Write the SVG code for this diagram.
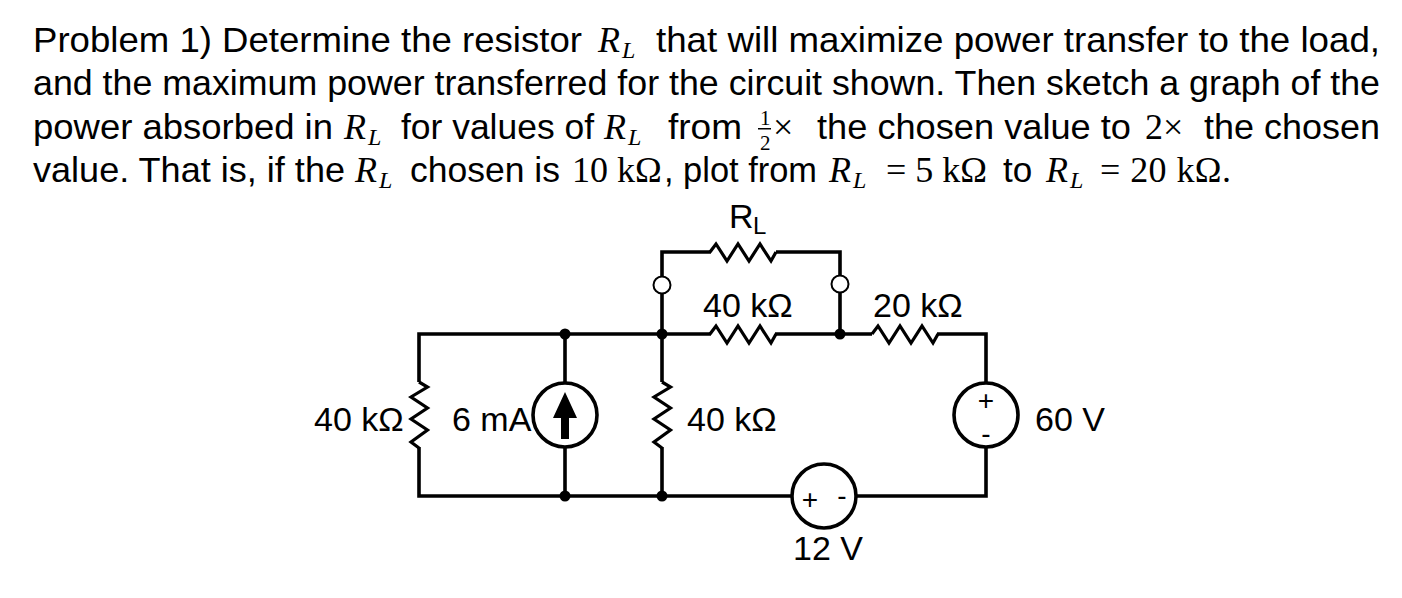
<svg xmlns="http://www.w3.org/2000/svg" width="1402" height="598" viewBox="0 0 1402 598">
<style>
text{fill:#000;font-family:"Liberation Sans",Arial,sans-serif;font-size:34px}
.p{font-size:35px}
.m{font-family:"Liberation Serif","Times New Roman",serif;font-size:36px}
.i{font-style:italic}
.s{font-size:24px}
.f{font-size:21px}
.w,.z{fill:none;stroke:#000;stroke-linejoin:miter}
.w{stroke-width:3.600}
.z{stroke-width:3.200}
.c{fill:#fff;stroke:#000;stroke-width:3.600}
.o{fill:#fff;stroke:#000;stroke-width:2}
.d{fill:#000}
.sg{font-size:28px;text-anchor:middle}
</style>
<defs>
<path id="rh" class="z" d="M-33 0L-27 -8L-16 9L-5 -8L6 9L17 -8L28 9L33 0"/>
<path id="rv" class="z" d="M0 -33L8.500 -28L-8 -18L8.500 -7L-8 4L8.500 15L-8 27L0 33"/>
<g id="R"><text class="m i" x="0" y="0">R</text><text class="m i s" x="24" y="6">L</text></g>
</defs>
<g id="problem-text">
<text class="p" x="33" y="52" textLength="549" lengthAdjust="spacingAndGlyphs">Problem 1) Determine the resistor</text>
<use href="#R" x="598" y="52"/>
<text class="p" x="656" y="52" textLength="724" lengthAdjust="spacingAndGlyphs">that will maximize power transfer to the load,</text>
<text class="p" x="33" y="95" textLength="1347" lengthAdjust="spacingAndGlyphs">and the maximum power transferred for the circuit shown. Then sketch a graph of the</text>
<text class="p" x="33" y="139" textLength="300" lengthAdjust="spacingAndGlyphs">power absorbed in</text>
<use href="#R" x="344" y="139"/>
<text class="p" x="401" y="139" textLength="193" lengthAdjust="spacingAndGlyphs">for values of</text>
<use href="#R" x="604" y="139"/>
<text class="p" x="668" y="139" textLength="74" lengthAdjust="spacingAndGlyphs">from</text>
<text class="m f" x="760" y="125">1</text>
<rect x="758" y="128" width="13" height="1.500"/>
<text class="m f" x="760" y="150">2</text>
<text class="m" x="773" y="139">×</text>
<text class="p" x="817" y="139" textLength="314" lengthAdjust="spacingAndGlyphs">the chosen value to</text>
<text class="m" x="1145" y="139">2×</text>
<text class="p" x="1204" y="139" textLength="176" lengthAdjust="spacingAndGlyphs">the chosen</text>
<text class="p" x="33" y="182" textLength="312" lengthAdjust="spacingAndGlyphs">value. That is, if the</text>
<use href="#R" x="355" y="182"/>
<text class="p" x="410" y="182" textLength="150" lengthAdjust="spacingAndGlyphs">chosen is</text>
<text class="m" x="572" y="182">10 kΩ</text>
<text class="p" x="664" y="182" textLength="153" lengthAdjust="spacingAndGlyphs">, plot from</text>
<use href="#R" x="829" y="182"/>
<text class="m" x="886" y="182">= 5 kΩ</text>
<text class="p" x="1003" y="182">to</text>
<use href="#R" x="1046" y="182"/>
<text class="m" x="1100" y="182" textLength="131">= 20 kΩ.</text>
</g>
<g id="connectors">
<path class="w" d="M711 252H662V276M776 252H840V276"/>
<path class="w" d="M662 294V382M662 447V496M840 292V334"/>
<path class="w" d="M419 382V334H711M775 334H872M937 334H986V383"/>
<path class="w" d="M565 334V383M565 447V496"/>
<path class="w" d="M419 447V496H792M856 496H986V447"/>
</g>
<g id="rl"><use href="#rh" x="743" y="252"/><text x="729" y="228">R</text><text class="s" x="753" y="234">L</text></g>
<g id="term-a"><circle class="o" cx="662" cy="285" r="8.500"/></g>
<g id="term-b"><circle class="o" cx="840" cy="284" r="8.500"/></g>
<g id="r-40k-top"><use href="#rh" x="743" y="334"/><text x="703" y="317">40 kΩ</text></g>
<g id="r-20k"><use href="#rh" x="905" y="334"/><text x="873" y="317">20 kΩ</text></g>
<g id="r-40k-left"><use href="#rv" x="419" y="415"/><text x="314" y="431">40 kΩ</text></g>
<g id="r-40k-mid"><use href="#rv" x="662" y="415"/><text x="687" y="431">40 kΩ</text></g>
<g id="i-6ma"><circle class="c" cx="565" cy="415" r="32"/><path class="d" d="M565 392L577 418H569V439H561V418H553Z"/><text x="452" y="431">6 mA</text></g>
<g id="v-60"><circle class="c" cx="986" cy="415" r="32"/><text class="sg" x="986" y="410">+</text><text class="sg" x="986" y="443">-</text><text x="1035" y="431">60 V</text></g>
<g id="v-12"><circle class="c" cx="824" cy="496" r="32"/><text class="sg" x="810" y="509">+</text><text class="sg" x="842" y="505">-</text><text x="793" y="560">12 V</text></g>
<g id="nodes">
<circle class="d" cx="565" cy="334" r="5.500"/><circle class="d" cx="662" cy="334" r="5.500"/><circle class="d" cx="840" cy="334" r="5.500"/><circle class="d" cx="565" cy="496" r="5.500"/><circle class="d" cx="662" cy="496" r="5.500"/>
</g>
</svg>
